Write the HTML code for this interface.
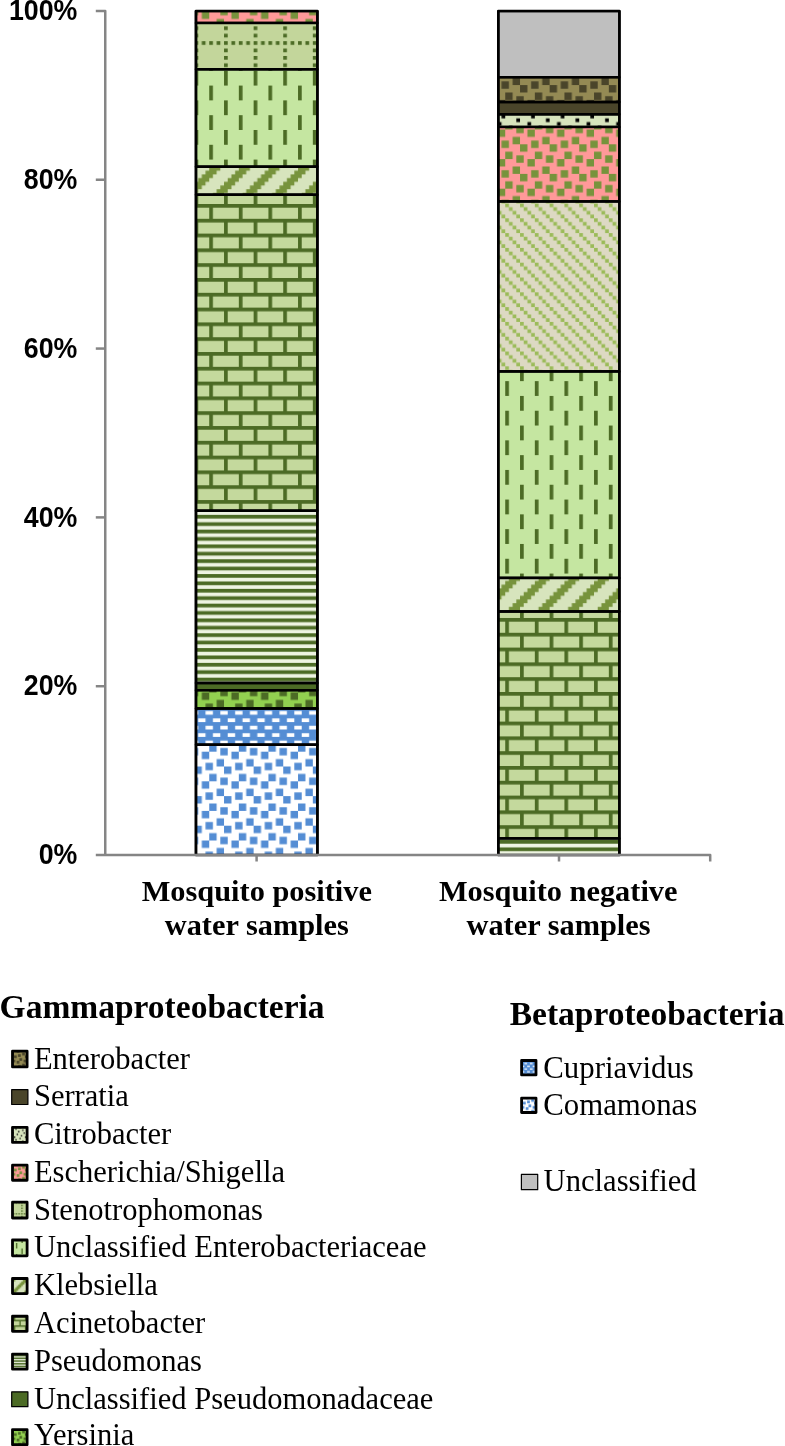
<!DOCTYPE html>
<html lang="en"><head><meta charset="utf-8"><title>Bacterial genera in mosquito positive and negative water samples</title>
<style>html,body{margin:0;padding:0;background:#fff}svg{display:block}</style></head>
<body>
<svg width="785" height="1446" viewBox="0 0 785 1446">
<defs><pattern id="pEschL" width="8" height="8" patternUnits="userSpaceOnUse" patternTransform="translate(16.830 11.560) scale(3.7 3.70070)"><rect width="8" height="8" fill="#FF9999"/><path d="M0 0h1v1h-1zM2 0h2v1h-2zM7 0h1v1h-1zM2 1h2v1h-2zM6 2h2v1h-2zM3 3h2v1h-2zM6 3h2v1h-2zM0 4h2v1h-2zM3 4h2v1h-2zM0 5h2v1h-2zM4 6h2v1h-2zM0 7h1v1h-1zM4 7h2v1h-2zM7 7h1v1h-1z" fill="#77933C"/></pattern><pattern id="pStenL" width="8" height="8" patternUnits="userSpaceOnUse" patternTransform="translate(16.830 11.560) scale(3.7 3.70070)"><rect width="8" height="8" fill="#C3D69B"/><path d="M0 0h1v1h-1zM2 0h1v1h-1zM4 0h1v1h-1zM6 0h1v1h-1zM0 2h1v1h-1zM0 4h1v1h-1zM0 6h1v1h-1z" fill="#4C6B25"/></pattern><pattern id="pUEntL" width="8" height="8" patternUnits="userSpaceOnUse" patternTransform="translate(16.830 11.560) scale(3.7 3.70070)"><rect width="8" height="8" fill="#C5E6A1"/><path d="M0 0h1v1h-1zM0 1h1v1h-1zM0 2h1v1h-1zM0 3h1v1h-1zM4 4h1v1h-1zM4 5h1v1h-1zM4 6h1v1h-1zM4 7h1v1h-1z" fill="#4C6B25"/></pattern><pattern id="pKlebL" width="8" height="8" patternUnits="userSpaceOnUse" patternTransform="translate(16.830 11.560) scale(3.7 3.70070)"><rect width="8" height="8" fill="#D7E4BD"/><path d="M0 0h1v1h-1zM6 0h2v1h-2zM5 1h3v1h-3zM4 2h3v1h-3zM3 3h3v1h-3zM2 4h3v1h-3zM1 5h3v1h-3zM0 6h3v1h-3zM0 7h2v1h-2zM7 7h1v1h-1z" fill="#77933C"/></pattern><pattern id="pAcinL" width="8" height="8" patternUnits="userSpaceOnUse" patternTransform="translate(16.830 11.560) scale(3.7 3.70070)"><rect width="8" height="8" fill="#C4D99D"/><path d="M0 0h8v1h-8zM0 1h1v1h-1zM0 2h1v1h-1zM0 3h1v1h-1zM0 4h8v1h-8zM4 5h1v1h-1zM4 6h1v1h-1zM4 7h1v1h-1z" fill="#4C6B25"/></pattern><pattern id="pPseuL" width="8" height="8" patternUnits="userSpaceOnUse" patternTransform="translate(16.830 11.560) scale(3.7 3.70070)"><rect width="8" height="8" fill="#EEF4E2"/><path d="M0 0h8v1h-8zM0 2h8v1h-8zM0 4h8v1h-8zM0 6h8v1h-8z" fill="#4C6B25"/></pattern><pattern id="pYersL" width="8" height="8" patternUnits="userSpaceOnUse" patternTransform="translate(16.830 11.560) scale(3.7 3.70070)"><rect width="8" height="8" fill="#92D050"/><path d="M0 0h1v1h-1zM2 0h2v1h-2zM7 0h1v1h-1zM2 1h2v1h-2zM6 2h2v1h-2zM3 3h2v1h-2zM6 3h2v1h-2zM0 4h2v1h-2zM3 4h2v1h-2zM0 5h2v1h-2zM4 6h2v1h-2zM0 7h1v1h-1zM4 7h2v1h-2zM7 7h1v1h-1z" fill="#4C6B25"/></pattern><pattern id="pCuprL" width="8" height="8" patternUnits="userSpaceOnUse" patternTransform="translate(16.830 11.560) scale(3.7 3.70070)"><rect width="8" height="8" fill="#548DD4"/><path d="M0 1h1v1h-1zM3 1h2v1h-2zM7 1h1v1h-1zM1 3h2v1h-2zM5 3h2v1h-2zM0 5h1v1h-1zM3 5h2v1h-2zM7 5h1v1h-1zM1 7h2v1h-2zM5 7h2v1h-2z" fill="#FFFFFF"/></pattern><pattern id="pComaL" width="8" height="8" patternUnits="userSpaceOnUse" patternTransform="translate(16.830 11.560) scale(3.7 3.70070)"><rect width="8" height="8" fill="#FFFFFF"/><path d="M0 0h1v1h-1zM2 0h2v1h-2zM7 0h1v1h-1zM2 1h2v1h-2zM6 2h2v1h-2zM3 3h2v1h-2zM6 3h2v1h-2zM0 4h2v1h-2zM3 4h2v1h-2zM0 5h2v1h-2zM4 6h2v1h-2zM0 7h1v1h-1zM4 7h2v1h-2zM7 7h1v1h-1z" fill="#548DD4"/></pattern><pattern id="pEntbL" width="8" height="8" patternUnits="userSpaceOnUse" patternTransform="translate(16.830 11.560) scale(3.7 3.70070)"><rect width="8" height="8" fill="#948A54"/><path d="M0 0h1v1h-1zM2 0h2v1h-2zM7 0h1v1h-1zM2 1h2v1h-2zM6 2h2v1h-2zM3 3h2v1h-2zM6 3h2v1h-2zM0 4h2v1h-2zM3 4h2v1h-2zM0 5h2v1h-2zM4 6h2v1h-2zM0 7h1v1h-1zM4 7h2v1h-2zM7 7h1v1h-1z" fill="#4A452A"/></pattern><pattern id="pCitrL" width="8" height="8" patternUnits="userSpaceOnUse" patternTransform="translate(16.830 11.560) scale(3.7 3.70070)"><rect width="8" height="8" fill="#D7E4BD"/><path d="M0 0h1v1h-1zM4 1h1v1h-1zM1 2h1v1h-1zM6 3h1v1h-1zM3 4h1v1h-1zM7 5h1v1h-1zM2 6h1v1h-1zM5 7h1v1h-1z" fill="#000000"/></pattern><pattern id="pSten2L" width="8" height="8" patternUnits="userSpaceOnUse" patternTransform="translate(16.830 11.560) scale(3.7 3.70070)"><rect width="8" height="8" fill="#DDD9C3"/><path d="M0 0h1v1h-1zM4 0h1v1h-1zM1 1h1v1h-1zM5 1h1v1h-1zM2 2h1v1h-1zM6 2h1v1h-1zM3 3h1v1h-1zM7 3h1v1h-1zM0 4h1v1h-1zM4 4h1v1h-1zM1 5h1v1h-1zM5 5h1v1h-1zM2 6h1v1h-1zM6 6h1v1h-1zM3 7h1v1h-1zM7 7h1v1h-1z" fill="#9BBB59"/></pattern><pattern id="pEschR" width="8" height="8" patternUnits="userSpaceOnUse" patternTransform="translate(16.830 11.060) scale(3.7 3.70070)"><rect width="8" height="8" fill="#FF9999"/><path d="M0 0h1v1h-1zM2 0h2v1h-2zM7 0h1v1h-1zM2 1h2v1h-2zM6 2h2v1h-2zM3 3h2v1h-2zM6 3h2v1h-2zM0 4h2v1h-2zM3 4h2v1h-2zM0 5h2v1h-2zM4 6h2v1h-2zM0 7h1v1h-1zM4 7h2v1h-2zM7 7h1v1h-1z" fill="#77933C"/></pattern><pattern id="pStenR" width="8" height="8" patternUnits="userSpaceOnUse" patternTransform="translate(16.830 11.060) scale(3.7 3.70070)"><rect width="8" height="8" fill="#C3D69B"/><path d="M0 0h1v1h-1zM2 0h1v1h-1zM4 0h1v1h-1zM6 0h1v1h-1zM0 2h1v1h-1zM0 4h1v1h-1zM0 6h1v1h-1z" fill="#4C6B25"/></pattern><pattern id="pUEntR" width="8" height="8" patternUnits="userSpaceOnUse" patternTransform="translate(16.830 11.060) scale(3.7 3.70070)"><rect width="8" height="8" fill="#C5E6A1"/><path d="M0 0h1v1h-1zM0 1h1v1h-1zM0 2h1v1h-1zM0 3h1v1h-1zM4 4h1v1h-1zM4 5h1v1h-1zM4 6h1v1h-1zM4 7h1v1h-1z" fill="#4C6B25"/></pattern><pattern id="pKlebR" width="8" height="8" patternUnits="userSpaceOnUse" patternTransform="translate(16.830 11.060) scale(3.7 3.70070)"><rect width="8" height="8" fill="#D7E4BD"/><path d="M0 0h1v1h-1zM6 0h2v1h-2zM5 1h3v1h-3zM4 2h3v1h-3zM3 3h3v1h-3zM2 4h3v1h-3zM1 5h3v1h-3zM0 6h3v1h-3zM0 7h2v1h-2zM7 7h1v1h-1z" fill="#77933C"/></pattern><pattern id="pAcinR" width="8" height="8" patternUnits="userSpaceOnUse" patternTransform="translate(16.830 11.060) scale(3.7 3.70070)"><rect width="8" height="8" fill="#C4D99D"/><path d="M0 0h8v1h-8zM0 1h1v1h-1zM0 2h1v1h-1zM0 3h1v1h-1zM0 4h8v1h-8zM4 5h1v1h-1zM4 6h1v1h-1zM4 7h1v1h-1z" fill="#4C6B25"/></pattern><pattern id="pPseuR" width="8" height="8" patternUnits="userSpaceOnUse" patternTransform="translate(16.830 11.060) scale(3.7 3.70070)"><rect width="8" height="8" fill="#EEF4E2"/><path d="M0 0h8v1h-8zM0 2h8v1h-8zM0 4h8v1h-8zM0 6h8v1h-8z" fill="#4C6B25"/></pattern><pattern id="pYersR" width="8" height="8" patternUnits="userSpaceOnUse" patternTransform="translate(16.830 11.060) scale(3.7 3.70070)"><rect width="8" height="8" fill="#92D050"/><path d="M0 0h1v1h-1zM2 0h2v1h-2zM7 0h1v1h-1zM2 1h2v1h-2zM6 2h2v1h-2zM3 3h2v1h-2zM6 3h2v1h-2zM0 4h2v1h-2zM3 4h2v1h-2zM0 5h2v1h-2zM4 6h2v1h-2zM0 7h1v1h-1zM4 7h2v1h-2zM7 7h1v1h-1z" fill="#4C6B25"/></pattern><pattern id="pCuprR" width="8" height="8" patternUnits="userSpaceOnUse" patternTransform="translate(16.830 11.060) scale(3.7 3.70070)"><rect width="8" height="8" fill="#548DD4"/><path d="M0 1h1v1h-1zM3 1h2v1h-2zM7 1h1v1h-1zM1 3h2v1h-2zM5 3h2v1h-2zM0 5h1v1h-1zM3 5h2v1h-2zM7 5h1v1h-1zM1 7h2v1h-2zM5 7h2v1h-2z" fill="#FFFFFF"/></pattern><pattern id="pComaR" width="8" height="8" patternUnits="userSpaceOnUse" patternTransform="translate(16.830 11.060) scale(3.7 3.70070)"><rect width="8" height="8" fill="#FFFFFF"/><path d="M0 0h1v1h-1zM2 0h2v1h-2zM7 0h1v1h-1zM2 1h2v1h-2zM6 2h2v1h-2zM3 3h2v1h-2zM6 3h2v1h-2zM0 4h2v1h-2zM3 4h2v1h-2zM0 5h2v1h-2zM4 6h2v1h-2zM0 7h1v1h-1zM4 7h2v1h-2zM7 7h1v1h-1z" fill="#548DD4"/></pattern><pattern id="pEntbR" width="8" height="8" patternUnits="userSpaceOnUse" patternTransform="translate(16.830 11.060) scale(3.7 3.70070)"><rect width="8" height="8" fill="#948A54"/><path d="M0 0h1v1h-1zM2 0h2v1h-2zM7 0h1v1h-1zM2 1h2v1h-2zM6 2h2v1h-2zM3 3h2v1h-2zM6 3h2v1h-2zM0 4h2v1h-2zM3 4h2v1h-2zM0 5h2v1h-2zM4 6h2v1h-2zM0 7h1v1h-1zM4 7h2v1h-2zM7 7h1v1h-1z" fill="#4A452A"/></pattern><pattern id="pCitrR" width="8" height="8" patternUnits="userSpaceOnUse" patternTransform="translate(16.830 11.060) scale(3.7 3.70070)"><rect width="8" height="8" fill="#D7E4BD"/><path d="M0 0h1v1h-1zM4 1h1v1h-1zM1 2h1v1h-1zM6 3h1v1h-1zM3 4h1v1h-1zM7 5h1v1h-1zM2 6h1v1h-1zM5 7h1v1h-1z" fill="#000000"/></pattern><pattern id="pSten2R" width="8" height="8" patternUnits="userSpaceOnUse" patternTransform="translate(16.830 11.060) scale(3.7 3.70070)"><rect width="8" height="8" fill="#DDD9C3"/><path d="M0 0h1v1h-1zM4 0h1v1h-1zM1 1h1v1h-1zM5 1h1v1h-1zM2 2h1v1h-1zM6 2h1v1h-1zM3 3h1v1h-1zM7 3h1v1h-1zM0 4h1v1h-1zM4 4h1v1h-1zM1 5h1v1h-1zM5 5h1v1h-1zM2 6h1v1h-1zM6 6h1v1h-1zM3 7h1v1h-1zM7 7h1v1h-1z" fill="#9BBB59"/></pattern><pattern id="lEntb" width="8" height="8" patternUnits="userSpaceOnUse" patternTransform="translate(13.900 1049.900) scale(1.37 1.37026)"><rect width="8" height="8" fill="#948A54"/><path d="M0 0h1v1h-1zM2 0h2v1h-2zM7 0h1v1h-1zM2 1h2v1h-2zM6 2h2v1h-2zM3 3h2v1h-2zM6 3h2v1h-2zM0 4h2v1h-2zM3 4h2v1h-2zM0 5h2v1h-2zM4 6h2v1h-2zM0 7h1v1h-1zM4 7h2v1h-2zM7 7h1v1h-1z" fill="#4A452A"/></pattern><pattern id="lCitr" width="8" height="8" patternUnits="userSpaceOnUse" patternTransform="translate(13.900 1125.460) scale(1.37 1.37026)"><rect width="8" height="8" fill="#D7E4BD"/><path d="M0 0h1v1h-1zM4 1h1v1h-1zM1 2h1v1h-1zM6 3h1v1h-1zM3 4h1v1h-1zM7 5h1v1h-1zM2 6h1v1h-1zM5 7h1v1h-1z" fill="#000000"/></pattern><pattern id="lEsch" width="8" height="8" patternUnits="userSpaceOnUse" patternTransform="translate(13.900 1163.240) scale(1.37 1.37026)"><rect width="8" height="8" fill="#FF9999"/><path d="M0 0h1v1h-1zM2 0h2v1h-2zM7 0h1v1h-1zM2 1h2v1h-2zM6 2h2v1h-2zM3 3h2v1h-2zM6 3h2v1h-2zM0 4h2v1h-2zM3 4h2v1h-2zM0 5h2v1h-2zM4 6h2v1h-2zM0 7h1v1h-1zM4 7h2v1h-2zM7 7h1v1h-1z" fill="#77933C"/></pattern><pattern id="lSten" width="8" height="8" patternUnits="userSpaceOnUse" patternTransform="translate(10.340 1202.160) scale(1.37 1.37026)"><rect width="8" height="8" fill="#C3D69B"/><path d="M0 0h1v1h-1zM2 0h1v1h-1zM4 0h1v1h-1zM6 0h1v1h-1zM0 2h1v1h-1zM0 4h1v1h-1zM0 6h1v1h-1z" fill="#4C6B25"/></pattern><pattern id="lUEnt" width="8" height="8" patternUnits="userSpaceOnUse" patternTransform="translate(15.900 1243.000) scale(1.37 1.37026)"><rect width="8" height="8" fill="#C5E6A1"/><path d="M0 0h1v1h-1zM0 1h1v1h-1zM0 2h1v1h-1zM0 3h1v1h-1zM4 4h1v1h-1zM4 5h1v1h-1zM4 6h1v1h-1zM4 7h1v1h-1z" fill="#4C6B25"/></pattern><pattern id="lKleb" width="8" height="8" patternUnits="userSpaceOnUse" patternTransform="translate(13.600 1279.780) scale(1.55 1.55029)"><rect width="8" height="8" fill="#D7E4BD"/><path d="M0 0h1v1h-1zM6 0h2v1h-2zM5 1h3v1h-3zM4 2h3v1h-3zM3 3h3v1h-3zM2 4h3v1h-3zM1 5h3v1h-3zM0 6h3v1h-3zM0 7h2v1h-2zM7 7h1v1h-1z" fill="#77933C"/></pattern><pattern id="lAcin" width="8" height="8" patternUnits="userSpaceOnUse" patternTransform="translate(13.900 1314.360) scale(1.37 1.37026)"><rect width="8" height="8" fill="#C3D69B"/><path d="M0 0h8v1h-8zM0 1h1v1h-1zM0 2h1v1h-1zM0 3h1v1h-1zM0 4h8v1h-8zM4 5h1v1h-1zM4 6h1v1h-1zM4 7h1v1h-1z" fill="#4C6B25"/></pattern><pattern id="lPseu" width="8" height="8" patternUnits="userSpaceOnUse" patternTransform="translate(13.900 1352.140) scale(1.37 1.37026)"><rect width="8" height="8" fill="#EBF1DE"/><path d="M0 0h8v1h-8zM0 2h8v1h-8zM0 4h8v1h-8zM0 6h8v1h-8z" fill="#4C6B25"/></pattern><pattern id="lYers" width="8" height="8" patternUnits="userSpaceOnUse" patternTransform="translate(13.900 1427.700) scale(1.37 1.37026)"><rect width="8" height="8" fill="#92D050"/><path d="M0 0h1v1h-1zM2 0h2v1h-2zM7 0h1v1h-1zM2 1h2v1h-2zM6 2h2v1h-2zM3 3h2v1h-2zM6 3h2v1h-2zM0 4h2v1h-2zM3 4h2v1h-2zM0 5h2v1h-2zM4 6h2v1h-2zM0 7h1v1h-1zM4 7h2v1h-2zM7 7h1v1h-1z" fill="#4C6B25"/></pattern><pattern id="lCupr" width="8" height="8" patternUnits="userSpaceOnUse" patternTransform="translate(523.000 1058.700) scale(1.37 1.37026)"><rect width="8" height="8" fill="#548DD4"/><path d="M0 1h1v1h-1zM3 1h2v1h-2zM7 1h1v1h-1zM1 3h2v1h-2zM5 3h2v1h-2zM0 5h1v1h-1zM3 5h2v1h-2zM7 5h1v1h-1zM1 7h2v1h-2zM5 7h2v1h-2z" fill="#FFFFFF"/></pattern><pattern id="lComa" width="8" height="8" patternUnits="userSpaceOnUse" patternTransform="translate(523.000 1096.300) scale(1.37 1.37026)"><rect width="8" height="8" fill="#FFFFFF"/><path d="M0 0h1v1h-1zM2 0h2v1h-2zM7 0h1v1h-1zM2 1h2v1h-2zM6 2h2v1h-2zM3 3h2v1h-2zM6 3h2v1h-2zM0 4h2v1h-2zM3 4h2v1h-2zM0 5h2v1h-2zM4 6h2v1h-2zM0 7h1v1h-1zM4 7h2v1h-2zM7 7h1v1h-1z" fill="#548DD4"/></pattern></defs>
<rect width="785" height="1446" fill="#fff"/>
<g stroke="#000" stroke-width="2.5" stroke-linejoin="round">
<rect x="195.97" y="11.05" width="121.43" height="11.95" fill="url(#pEschL)"/><rect x="195.97" y="23.0" width="121.43" height="46.35" fill="url(#pStenL)"/><rect x="195.97" y="69.35" width="121.43" height="97.40" fill="url(#pUEntL)"/><rect x="195.97" y="166.75" width="121.43" height="28.05" fill="url(#pKlebL)"/><rect x="195.97" y="194.8" width="121.43" height="315.90" fill="url(#pAcinL)"/><rect x="195.97" y="510.7" width="121.43" height="172.40" fill="url(#pPseuL)"/><rect x="195.97" y="683.1" width="121.43" height="7.10" fill="#4C6B25"/><rect x="195.97" y="690.2" width="121.43" height="18.40" fill="url(#pYersL)"/><rect x="195.97" y="708.6" width="121.43" height="36.20" fill="url(#pCuprL)"/><rect x="195.97" y="744.8" width="121.43" height="110.20" fill="url(#pComaL)"/><g stroke-width="2.15"><line x1="195.97" x2="317.4" y1="11.05" y2="11.05"/><line x1="195.97" x2="317.4" y1="23.0" y2="23.0"/><line x1="195.97" x2="317.4" y1="69.35" y2="69.35"/><line x1="195.97" x2="317.4" y1="166.75" y2="166.75"/><line x1="195.97" x2="317.4" y1="194.8" y2="194.8"/><line x1="195.97" x2="317.4" y1="510.7" y2="510.7"/><line x1="195.97" x2="317.4" y1="683.1" y2="683.1"/><line x1="195.97" x2="317.4" y1="690.2" y2="690.2"/><line x1="195.97" x2="317.4" y1="708.6" y2="708.6"/><line x1="195.97" x2="317.4" y1="744.8" y2="744.8"/></g><path d="M195.97 855.0V10.58M317.4 855.0V10.58" fill="none" stroke-width="2.5"/>
<rect x="498.3" y="11.05" width="121.10" height="66.10" fill="#BFBFBF"/><rect x="498.3" y="77.15" width="121.10" height="24.90" fill="url(#pEntbR)"/><rect x="498.3" y="102.05" width="121.10" height="12.25" fill="#4A452A"/><rect x="498.3" y="114.3" width="121.10" height="12.70" fill="url(#pCitrR)"/><rect x="498.3" y="127.0" width="121.10" height="74.45" fill="url(#pEschR)"/><rect x="498.3" y="201.45" width="121.10" height="169.95" fill="url(#pSten2R)"/><rect x="498.3" y="371.4" width="121.10" height="206.50" fill="url(#pUEntR)"/><rect x="498.3" y="577.9" width="121.10" height="33.70" fill="url(#pKlebR)"/><rect x="498.3" y="611.6" width="121.10" height="226.80" fill="url(#pAcinR)"/><rect x="498.3" y="838.4" width="121.10" height="16.60" fill="url(#pPseuR)"/><g stroke-width="2.15"><line x1="498.3" x2="619.4" y1="11.05" y2="11.05"/><line x1="498.3" x2="619.4" y1="77.15" y2="77.15"/><line x1="498.3" x2="619.4" y1="102.05" y2="102.05"/><line x1="498.3" x2="619.4" y1="114.3" y2="114.3"/><line x1="498.3" x2="619.4" y1="127.0" y2="127.0" stroke-width="1.6"/><line x1="498.3" x2="619.4" y1="201.45" y2="201.45"/><line x1="498.3" x2="619.4" y1="371.4" y2="371.4"/><line x1="498.3" x2="619.4" y1="577.9" y2="577.9"/><line x1="498.3" x2="619.4" y1="611.6" y2="611.6"/><line x1="498.3" x2="619.4" y1="838.4" y2="838.4"/></g><path d="M498.3 855.0V10.58M619.4 855.0V10.58" fill="none" stroke-width="2.5"/>
</g>
<g stroke="#858585" stroke-width="2.5" fill="none" stroke-linejoin="round">
<path d="M95.8 10.9H105.25V855.05"/>
<path d="M95.8 686.22H105.25"/>
<path d="M95.8 517.39H105.25"/>
<path d="M95.8 348.56H105.25"/>
<path d="M95.8 179.73H105.25"/>
<path d="M95.8 855.05H710.2V861.6"/>
<path d="M256.6 855.05V861.5M559.0 855.05V861.5"/>
</g>
<g font-family="'Liberation Sans', sans-serif" font-weight="bold" font-size="29.2" text-anchor="end" fill="#000">
<text transform="translate(77.3 864.2) scale(0.916 1)">0%</text>
<text transform="translate(77.3 695.4) scale(0.916 1)">20%</text>
<text transform="translate(77.3 526.6) scale(0.916 1)">40%</text>
<text transform="translate(77.3 357.8) scale(0.916 1)">60%</text>
<text transform="translate(77.3 188.9) scale(0.916 1)">80%</text>
<text transform="translate(77.3 20.1) scale(0.916 1)">100%</text>
</g>
<g font-family="'Liberation Serif', serif" font-weight="bold" font-size="30.35" text-anchor="middle" fill="#000">
<text x="256.8" y="900.5">Mosquito positive</text><text x="256.8" y="935.2">water samples</text>
<text x="558.2" y="900.5">Mosquito negative</text><text x="558.5" y="935.2">water samples</text>
</g>
<g font-family="'Liberation Serif', serif" font-weight="bold" font-size="33.5" fill="#000">
<text x="-0.4" y="1017.5">Gammaproteobacteria</text>
<text x="509.7" y="1025">Betaproteobacteria</text>
</g>
<g font-family="'Liberation Serif', serif" font-size="30.55" fill="#000">
<rect x="12.50" y="1051.10" width="14.60" height="15.80" fill="url(#lEntb)" stroke="#000" stroke-width="2.8" stroke-linejoin="round"/>
<text x="33.9" y="1068.5">Enterobacter</text>
<rect x="11.70" y="1089.58" width="16.20" height="14.90" fill="#4A452A" stroke="#000" stroke-width="1.2" stroke-linejoin="round"/>
<text x="33.9" y="1106.3">Serratia</text>
<rect x="12.50" y="1127.36" width="14.60" height="15.10" fill="url(#lCitr)" stroke="#000" stroke-width="2.8" stroke-linejoin="round"/>
<text x="33.9" y="1144.1">Citrobacter</text>
<rect x="12.50" y="1165.14" width="14.60" height="15.10" fill="url(#lEsch)" stroke="#000" stroke-width="2.8" stroke-linejoin="round"/>
<text x="33.9" y="1181.8">Escherichia/Shigella</text>
<rect x="12.50" y="1202.22" width="14.60" height="15.80" fill="url(#lSten)" stroke="#000" stroke-width="2.8" stroke-linejoin="round"/>
<text x="33.9" y="1219.6">Stenotrophomonas</text>
<rect x="12.50" y="1240.00" width="14.60" height="15.80" fill="url(#lUEnt)" stroke="#000" stroke-width="2.8" stroke-linejoin="round"/>
<text x="33.9" y="1257.4">Unclassified Enterobacteriaceae</text>
<rect x="12.50" y="1278.48" width="14.60" height="15.10" fill="url(#lKleb)" stroke="#000" stroke-width="2.8" stroke-linejoin="round"/>
<text x="33.9" y="1295.2">Klebsiella</text>
<rect x="12.50" y="1316.26" width="14.60" height="15.10" fill="url(#lAcin)" stroke="#000" stroke-width="2.8" stroke-linejoin="round"/>
<text x="33.9" y="1333.0">Acinetobacter</text>
<rect x="12.50" y="1354.04" width="14.60" height="15.10" fill="url(#lPseu)" stroke="#000" stroke-width="2.8" stroke-linejoin="round"/>
<text x="33.9" y="1370.7">Pseudomonas</text>
<rect x="11.70" y="1391.82" width="16.20" height="14.90" fill="#4C6B25" stroke="#000" stroke-width="1.2" stroke-linejoin="round"/>
<text x="33.9" y="1408.5">Unclassified Pseudomonadaceae</text>
<rect x="12.50" y="1429.60" width="14.60" height="15.10" fill="url(#lYers)" stroke="#000" stroke-width="2.8" stroke-linejoin="round"/>
<text x="33.9" y="1445.3">Yersinia</text>
</g>
<g font-family="'Liberation Serif', serif" font-size="30.2" fill="#000">
<rect x="521.60" y="1060.50" width="14.40" height="14.40" fill="url(#lCupr)" stroke="#000" stroke-width="2.8" stroke-linejoin="round"/>
<text x="543.3" y="1077.7" font-size="30.8">Cupriavidus</text>
<rect x="521.60" y="1098.10" width="14.40" height="14.40" fill="url(#lComa)" stroke="#000" stroke-width="2.8" stroke-linejoin="round"/>
<text x="543.3" y="1114.9" font-size="30.8">Comamonas</text>
<rect x="521.40" y="1174.40" width="16.30" height="15.30" fill="#BFBFBF" stroke="#000" stroke-width="1.2" stroke-linejoin="round"/>
<text x="543.6" y="1191.3" font-size="30.6">Unclassified</text>
</g>
</svg>
</body></html>
